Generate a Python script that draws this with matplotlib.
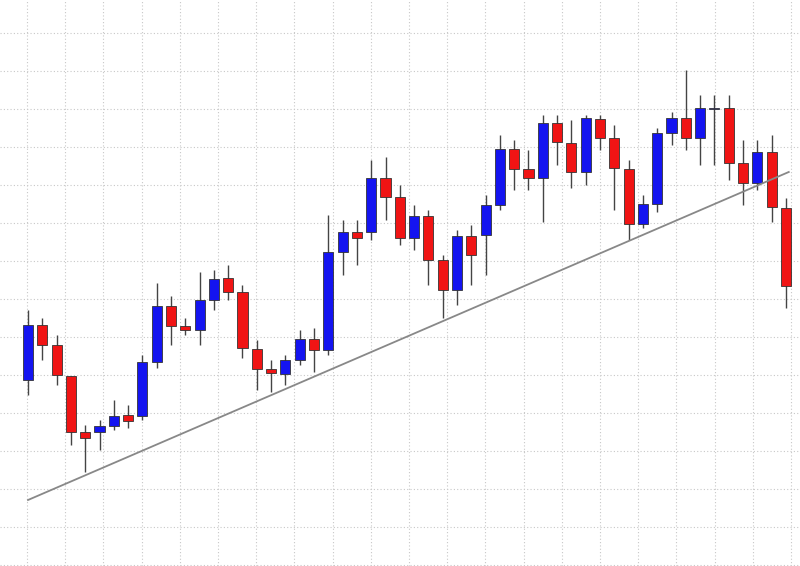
import numpy as np
import matplotlib.pyplot as plt

# prices (arbitrary units)
opens = [186, 241, 221, 190, 134, 134, 140, 151, 150, 204, 260, 240, 236, 266, 288, 274, 217, 197, 192, 206,
         227, 216, 314, 334, 334, 388, 369, 328, 350, 306, 276, 330, 331, 361, 417, 397, 388, 443, 423, 394,
         447, 428, 397, 342, 362, 433, 448, 428, 457, 458, 403, 383, 414, 358]
closes = [241, 221, 191, 134, 128, 140, 150, 145, 204, 260, 240, 236, 266, 287, 274, 218, 197, 193, 206, 227,
          216, 314, 334, 328, 388, 369, 328, 350, 306, 276, 330, 311, 361, 417, 397, 388, 443, 424, 394, 448,
          428, 398, 342, 362, 433, 448, 428, 458, 457, 403, 383, 414, 359, 280]
highs = [256, 248, 231, 190, 141, 146, 166, 161, 211, 283, 270, 248, 294, 296, 301, 281, 226, 206, 211, 236,
         238, 351, 346, 346, 406, 409, 381, 361, 356, 311, 336, 341, 371, 431, 426, 416, 451, 451, 446, 451,
         451, 441, 406, 371, 438, 454, 496, 471, 471, 471, 426, 426, 431, 368]
lows = [171, 206, 181, 121, 94, 116, 136, 138, 146, 198, 221, 231, 221, 256, 266, 208, 176, 174, 181, 201,
        194, 211, 291, 301, 326, 346, 321, 316, 281, 248, 261, 281, 291, 356, 376, 376, 344, 401, 378, 381,
        416, 356, 326, 338, 354, 421, 416, 401, 401, 386, 361, 376, 344, 258]
trend_x = [0, 53.2]
trend_y = [66, 394]

step = 14.3
fig = plt.figure(figsize=(8, 5.66), dpi=100)
ax = fig.add_axes([0, 0, 1, 1])
ax.set_xlim(-28 / step, (800 - 28) / step)
ax.set_ylim(0, 566)

# dotted grid
for gx in np.arange(27, 800, 38.2):
    ax.axvline((gx - 28) / step, color='#c8c8c8', lw=0.8, ls=(0, (1, 2)), zorder=0)
for gy in np.arange(33, 566, 38):
    ax.axhline(566 - gy, color='#c8c8c8', lw=0.8, ls=(0, (1, 2)), zorder=0)

for i, (o, c, h, l) in enumerate(zip(opens, closes, highs, lows)):
    col = '#1414f0' if c >= o else '#f01414'
    ax.vlines(i, l, h, color='#444444', lw=1, zorder=1)
    lo, hi = min(o, c), max(o, c)
    ax.bar(i, max(hi - lo, 1.5), bottom=lo, width=0.7, color=col,
           edgecolor='#333333', linewidth=0.6, zorder=2)

ax.plot(trend_x, trend_y, color='#888888', lw=1.3, zorder=3)
ax.axis('off')
fig.savefig('out.png', dpi=100)
